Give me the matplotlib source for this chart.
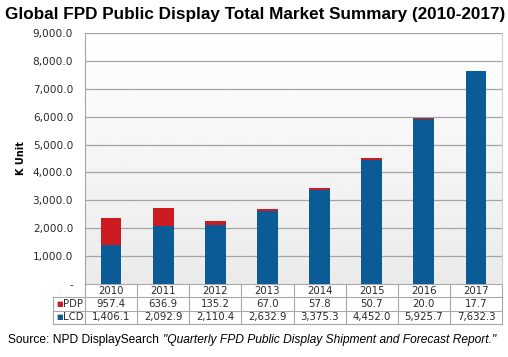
import numpy as np
import matplotlib.pyplot as plt
from matplotlib.transforms import blended_transform_factory

years = ['2010', '2011', '2012', '2013', '2014', '2015', '2016', '2017']
pdp = [957.4, 636.9, 135.2, 67.0, 57.8, 50.7, 20.0, 17.7]
lcd = [1406.1, 2092.9, 2110.4, 2632.9, 3375.3, 4452.0, 5925.7, 7632.3]
yticks = [0, 1000, 2000, 3000, 4000, 5000, 6000, 7000, 8000, 9000]

c_lcd = '#0b5c96'
c_pdp = '#cc1c22'
c_grid = '#a4a4a4'
c_txt = '#2a2a2a'

W, H = 508, 357
fig = plt.figure(figsize=(W / 100, H / 100), dpi=100)
ax = fig.add_axes([85 / W, (H - 284) / H, (502 - 85) / W, (284 - 33) / H])

x = np.arange(len(years))
# gradient backdrop, white at top to light grey at bottom
grad = np.linspace(1.0, 0.92, 100).reshape(-1, 1)
ax.imshow(grad, cmap='gray', vmin=0, vmax=1, extent=[-0.5, len(years) - 0.5, 0, 9000],
          aspect='auto', zorder=0, interpolation='bilinear')

ax.bar(x, lcd, width=0.4, color=c_lcd, zorder=3)
ax.bar(x, pdp, width=0.4, bottom=lcd, color=c_pdp, zorder=3)

ax.set_xlim(-0.5, len(years) - 0.5)
ax.set_ylim(0, 9000)
ax.set_yticks(yticks)
ax.set_yticklabels(['-'] + ['{:,.1f}'.format(v) for v in yticks[1:]], fontsize=7.6, color=c_txt)
ax.set_xticks([])
ax.tick_params(axis='y', length=0, pad=8.5)
for v in yticks[1:]:
    ax.axhline(v, color=c_grid, lw=0.9, zorder=1)
for s in ['top', 'bottom']:
    ax.spines[s].set_visible(False)
ax.spines['left'].set_color(c_grid)
ax.spines['right'].set_color('#d0d0d0')
ax.set_ylabel('K Unit', fontsize=7, fontweight='bold', labelpad=5)

# data table under the plot
tr = blended_transform_factory(ax.transData, ax.transAxes)
rh = 13.3 / (284 - 33)
lx = -0.5 - 32 / ((502 - 85) / len(years))
tcol = '#a8a8a8'
for k in range(4):
    yy = -k * rh
    x0 = -0.5 if k == 0 else lx
    ax.plot([x0, len(years) - 0.5], [yy, yy], color=tcol, lw=0.8, transform=tr, clip_on=False)
for i in range(len(years) + 1):
    ax.plot([i - 0.5, i - 0.5], [0, -3 * rh], color=tcol, lw=0.8, transform=tr, clip_on=False)
ax.plot([lx, lx], [-rh, -3 * rh], color=tcol, lw=0.8, transform=tr, clip_on=False)

for i in range(len(years)):
    ax.text(i, -0.5 * rh, years[i], transform=tr, ha='center', va='center', fontsize=7.3, color=c_txt)
    ax.text(i, -1.5 * rh, '{:,.1f}'.format(pdp[i]), transform=tr, ha='center', va='center', fontsize=7.3, color=c_txt)
    ax.text(i, -2.5 * rh, '{:,.1f}'.format(lcd[i]), transform=tr, ha='center', va='center', fontsize=7.3, color=c_txt)
for k, (lab, col) in enumerate([('PDP', c_pdp), ('LCD', c_lcd)]):
    yy = -(k + 1.5) * rh
    ax.text(lx + 0.06, yy, '\u25a0', transform=tr, ha='left', va='center', fontsize=5, color=col)
    ax.text(lx + 0.2, yy, lab, transform=tr, ha='left', va='center', fontsize=7.3, color=c_txt)

fig.text(5 / W, 1 - 15 / H, 'Global FPD Public Display Total Market Summary (2010-2017)',
         fontsize=12.3, fontweight='bold', family='Liberation Sans', va='center', ha='left')
fig.text(8 / W, 1 - 340 / H, 'Source: NPD DisplaySearch ', fontsize=8.65,
         family='Liberation Sans', va='center', ha='left')
fig.text(163 / W, 1 - 340 / H, '"Quarterly FPD Public Display Shipment and Forecast Report."',
         fontsize=8.65, style='italic', family='Liberation Sans', va='center', ha='left')

fig.savefig('out.png', dpi=100)
